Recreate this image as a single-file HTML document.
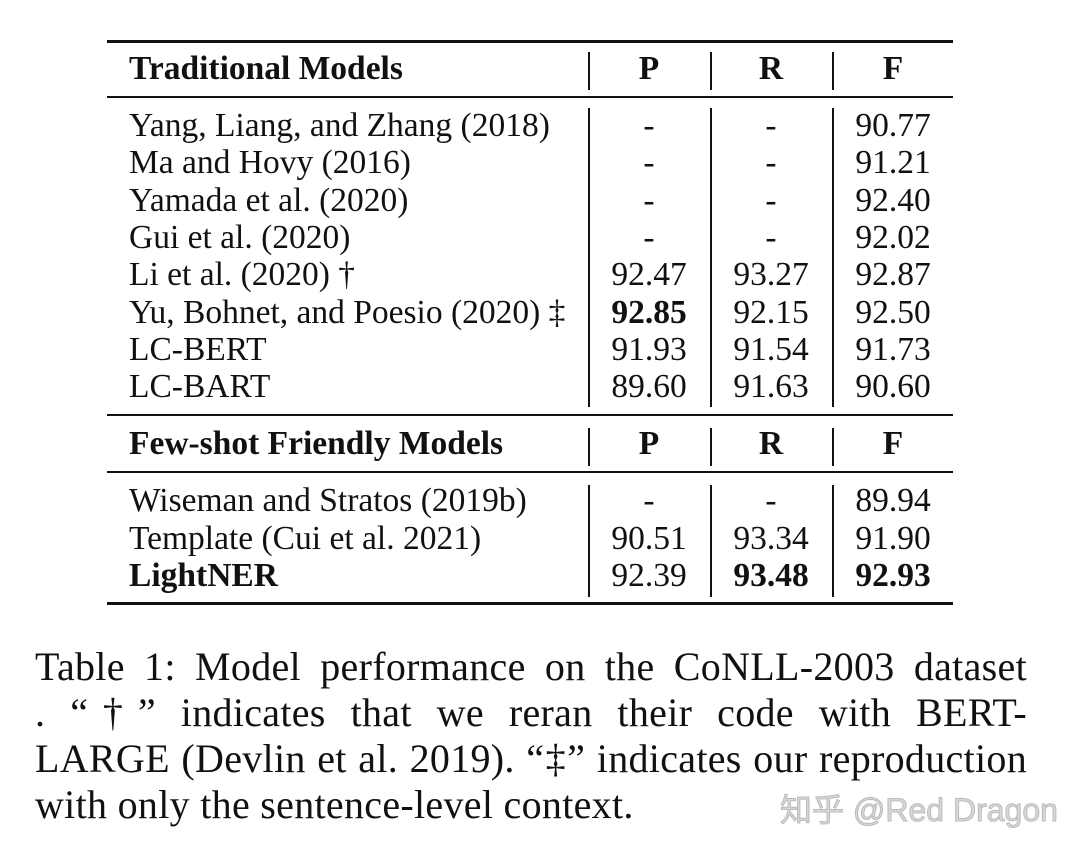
<!DOCTYPE html>
<html><head><meta charset="utf-8"><style>
body{margin:0;width:1086px;height:854px;background:#fff;position:relative;overflow:hidden;font-family:"Liberation Serif",serif;color:#111}
.r{position:absolute;left:107px;width:846px;background:#111}
.v{position:absolute;width:2px;background:#111}
.t{position:absolute;font-size:33.5px;line-height:36px;white-space:nowrap}
.c{text-align:center;width:120px}
b{font-weight:bold}
.cap{position:absolute;left:35px;width:992px;font-size:40px;letter-spacing:0.3px;line-height:46px;text-align:justify;text-align-last:justify;white-space:nowrap}
</style></head><body>
<div class="r" style="top:40px;height:3px"></div>
<div class="r" style="top:96px;height:2px"></div>
<div class="r" style="top:414px;height:2px"></div>
<div class="r" style="top:471px;height:2px"></div>
<div class="r" style="top:602px;height:3px"></div>
<div id="bars"></div>
<div id="tbl"></div>
<div>
<div class="cap" style="top:644px">Table 1: Model performance on the CoNLL-2003 dataset</div>
<div class="cap" style="top:690px">. “†” indicates that we reran their code with BERT-</div>
<div class="cap" style="top:736px">LARGE (Devlin et al. 2019). “‡” indicates our reproduction</div>
<div class="cap" style="top:782px;text-align-last:left">with only the sentence-level context.</div>
</div>
<div style="position:absolute;left:780px;top:785px;font-family:'Liberation Sans','Noto Sans CJK SC',sans-serif;font-size:32px;color:#d8d8d8;-webkit-text-stroke:1px #bbb">知乎 @Red Dragon</div>
<script>
const segs=[[52,90],[108,407],[428,466],[485,597]];
const xs=[588,710,832];
const bars=document.getElementById('bars');
segs.forEach(s=>xs.forEach(x=>{const d=document.createElement('div');d.className='v';


d.style.left=x+'px';d.style.top=s[0]+'px';d.style.height=(s[1]-s[0])+'px';bars.appendChild(d);}));
const rows=[
[68,'<b>Traditional Models</b>','<b>P</b>','<b>R</b>','<b>F</b>'],
[125,'Yang, Liang, and Zhang (2018)','-','-','90.77'],
[162,'Ma and Hovy (2016)','-','-','91.21'],
[200,'Yamada et al. (2020)','-','-','92.40'],
[237,'Gui et al. (2020)','-','-','92.02'],
[274,'Li et al. (2020) †','92.47','93.27','92.87'],
[312,'Yu, Bohnet, and Poesio (2020) ‡','<b>92.85</b>','92.15','92.50'],
[349,'LC-BERT','91.93','91.54','91.73'],
[386,'LC-BART','89.60','91.63','90.60'],
[443,'<b>Few-shot Friendly Models</b>','<b>P</b>','<b>R</b>','<b>F</b>'],
[500,'Wiseman and Stratos (2019b)','-','-','89.94'],
[538,'Template (Cui et al. 2021)','90.51','93.34','91.90'],
[575,'<b>LightNER</b>','92.39','<b>93.48</b>','<b>92.93</b>']];
const cx=[649,771,893];
const tb=document.getElementById('tbl');
rows.forEach(r=>{
 const n=document.createElement('div');n.className='t';
 
 
 n.style.left='129px';n.style.top=(r[0]-17)+'px';n.innerHTML=r[1];tb.appendChild(n);
 for(let i=0;i<3;i++){const d=document.createElement('div');d.className='t c';
 
 
 d.style.left=(cx[i]-60)+'px';d.style.top=(r[0]-17)+'px';d.innerHTML=r[i+2];tb.appendChild(d);}
});
</script>
</body></html>
